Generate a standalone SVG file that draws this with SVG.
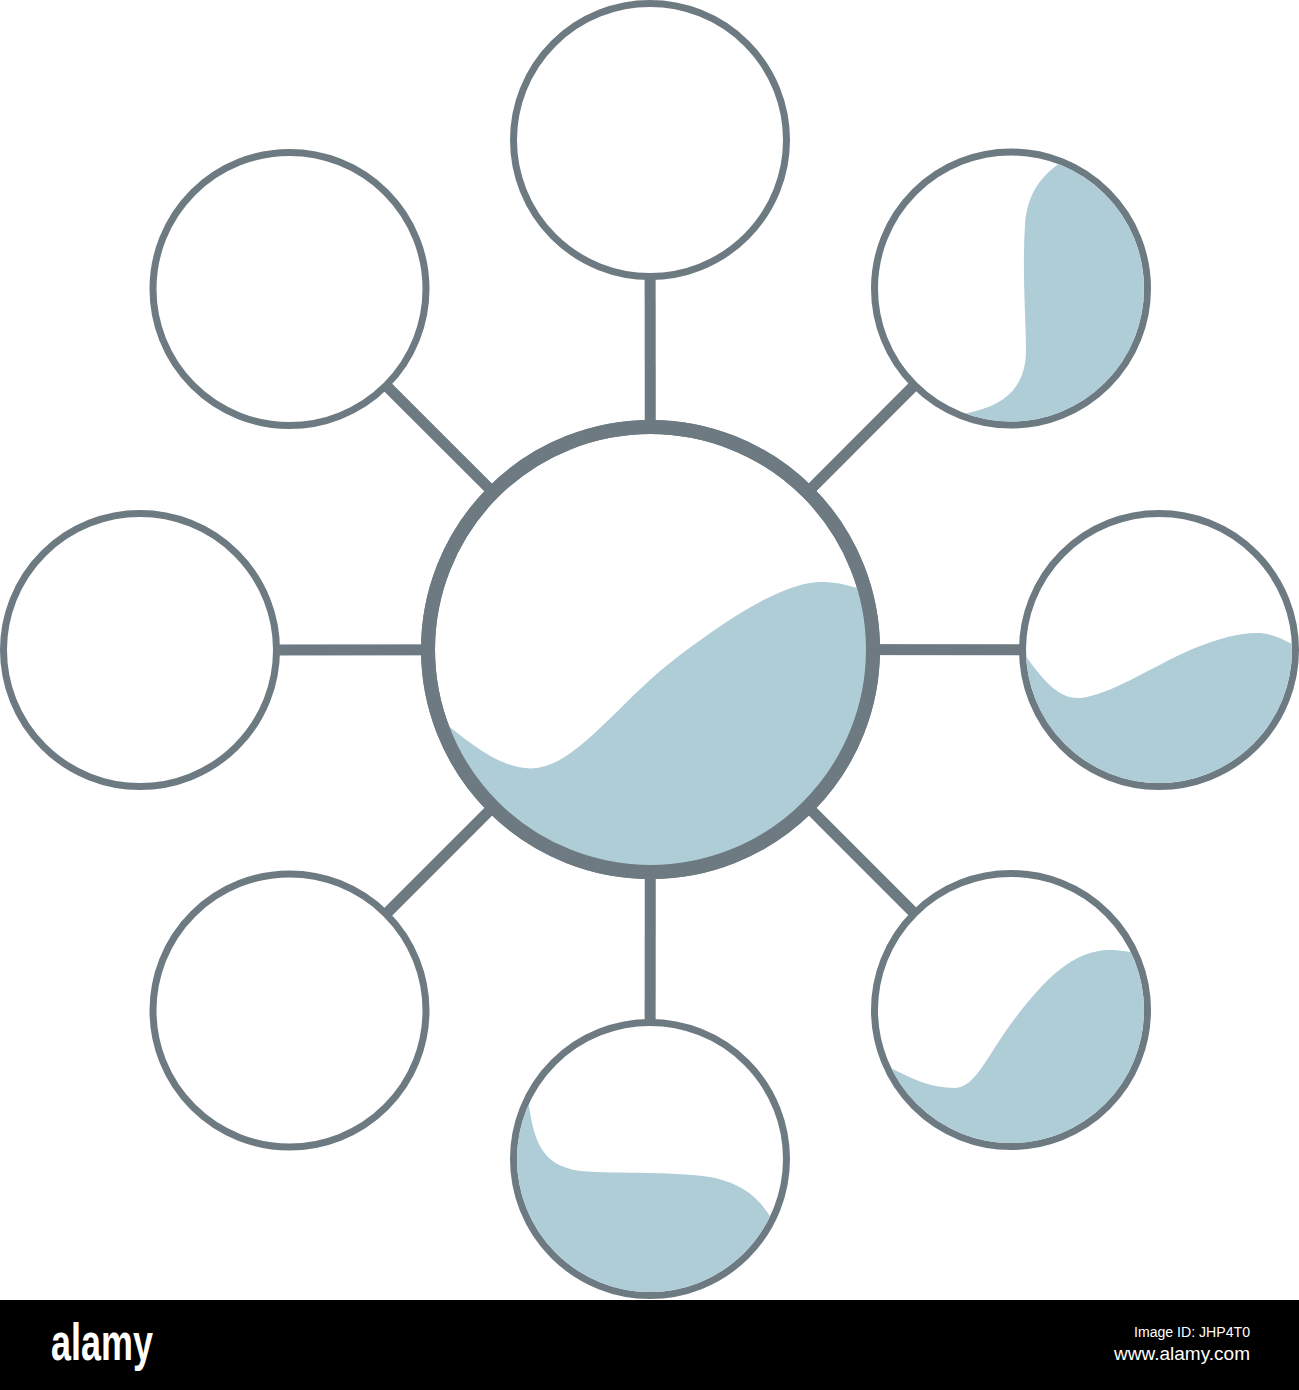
<svg xmlns="http://www.w3.org/2000/svg" width="1299" height="1390" viewBox="0 0 1299 1390">
<style>
.conn{stroke:#6d7a82;stroke-width:11;fill:none}
.sat{fill:#ffffff;stroke:#6d7a82;stroke-width:7}
.hub{fill:#ffffff;stroke:#6d7a82;stroke-width:14}
.liq{fill:#aecdd6}
.brand{fill:#ffffff;font-family:"Liberation Sans",Arial,sans-serif}
</style>
<defs>
<clipPath id="cHub"><circle cx="650.5" cy="649.5" r="216"/></clipPath>
<clipPath id="cUR"><circle cx="1011" cy="288.5" r="133"/></clipPath>
<clipPath id="cR"><circle cx="1159" cy="650" r="133"/></clipPath>
<clipPath id="cLR"><circle cx="1011" cy="1010" r="133"/></clipPath>
<clipPath id="cB"><circle cx="650" cy="1159" r="133"/></clipPath>
</defs>
<rect width="1299" height="1390" fill="#ffffff"/>
<g id="connectors">
<line class="conn" x1="650.5" y1="649.5" x2="650" y2="140"/>
<line class="conn" x1="650.5" y1="649.5" x2="1011" y2="288.5"/>
<line class="conn" x1="650.5" y1="649.5" x2="1159" y2="650"/>
<line class="conn" x1="650.5" y1="649.5" x2="1011" y2="1010"/>
<line class="conn" x1="650.5" y1="649.5" x2="650" y2="1159"/>
<line class="conn" x1="650.5" y1="649.5" x2="289.5" y2="1010.5"/>
<line class="conn" x1="650.5" y1="649.5" x2="140" y2="650"/>
<line class="conn" x1="650.5" y1="649.5" x2="289.5" y2="289"/>
</g>
<g id="hub">
<circle class="hub" cx="650.5" cy="649.5" r="222.5"/>
<path class="liq" clip-path="url(#cHub)" d="M 430 710 C 470 745, 505 772, 537 768 C 580 762, 620 700, 680 655 C 740 610, 790 580, 825 582 C 845 583, 860 588, 885 600 V 890 H 415 Z"/>
<circle cx="650.5" cy="649.5" r="222.5" fill="none" stroke="#6d7a82" stroke-width="14"/>
</g>
<g id="node-top"><circle class="sat" cx="650" cy="140" r="136.5"/></g>
<g id="node-upper-right">
<circle class="sat" cx="1011" cy="288.5" r="136.5"/>
<path class="liq" clip-path="url(#cUR)" d="M 1065 160 C 1040 175, 1027 195, 1025 225 C 1022 270, 1026 320, 1026 350 C 1026 395, 995 410, 955 415 L 960 440 L 1160 440 L 1160 140 Z"/>
</g>
<g id="node-right">
<circle class="sat" cx="1159" cy="650" r="136.5"/>
<path class="liq" clip-path="url(#cR)" d="M 1015 640 C 1035 670, 1055 700, 1080 698 C 1110 695, 1150 668, 1190 650 C 1220 637, 1245 632, 1260 633 C 1275 634, 1290 642, 1305 652 V 800 H 1010 Z"/>
</g>
<g id="node-lower-right">
<circle class="sat" cx="1011" cy="1010" r="136.5"/>
<path class="liq" clip-path="url(#cLR)" d="M 885 1065 C 910 1078, 930 1088, 955 1088 C 975 1087, 985 1060, 1010 1025 C 1040 985, 1070 950, 1110 950 C 1125 950, 1135 953, 1150 958 V 1160 H 870 Z"/>
</g>
<g id="node-bottom">
<circle class="sat" cx="650" cy="1159" r="136.5"/>
<path class="liq" clip-path="url(#cB)" d="M 528 1100 C 534 1140, 540 1165, 580 1171 C 620 1174, 680 1171, 715 1178 C 745 1185, 762 1200, 775 1225 L 800 1310 H 500 V 1100 Z"/>
</g>
<g id="node-lower-left"><circle class="sat" cx="289.5" cy="1010.5" r="136.5"/></g>
<g id="node-left"><circle class="sat" cx="140" cy="650" r="136.5"/></g>
<g id="node-upper-left"><circle class="sat" cx="289.5" cy="289" r="136.5"/></g>
<g id="footer">
<rect x="0" y="1300" width="1299" height="90" fill="#000000"/>
<text class="brand" x="51" y="1360" font-size="52" font-weight="bold" textLength="102" lengthAdjust="spacingAndGlyphs">alamy</text>
<text class="brand" x="1250" y="1337" font-size="14" text-anchor="end" textLength="116" lengthAdjust="spacingAndGlyphs">Image ID: JHP4T0</text>
<text class="brand" x="1250" y="1360" font-size="18" text-anchor="end" textLength="136" lengthAdjust="spacingAndGlyphs">www.alamy.com</text>
</g>
</svg>
